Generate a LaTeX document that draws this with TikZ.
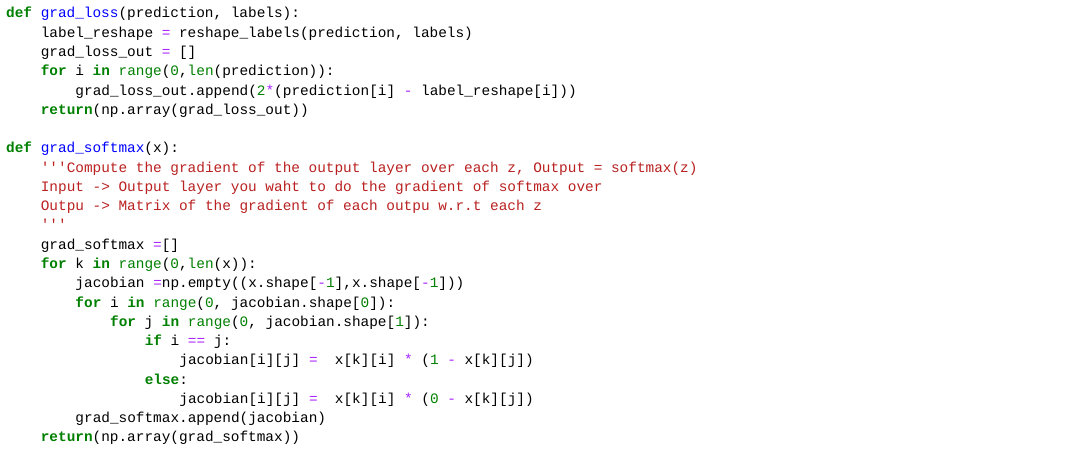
\documentclass[tikz,border=0pt]{standalone}
\usepackage{fontspec}
\setmonofont{Liberation Mono}
\definecolor{kwc}{HTML}{008000}
\definecolor{fnc}{HTML}{0000FF}
\definecolor{opc}{HTML}{AA22FF}
\definecolor{strc}{HTML}{BA2121}
\newcommand{\kw}[1]{\textcolor{kwc}{\bfseries #1}}
\newcommand{\bi}[1]{\textcolor{kwc}{#1}}
\newcommand{\fnm}[1]{\textcolor{fnc}{#1}}
\newcommand{\op}[1]{\textcolor{opc}{#1}}
\newcommand{\st}[1]{\textcolor{strc}{#1}}
\tikzset{cl/.style={anchor=base west,inner sep=0pt,font=\ttfamily\fontsize{14.4bp}{16bp}\selectfont}}
\newcommand{\codeln}[4]{\node[cl] (#1) at ({6+#2*8.66},{18+(#3-1)*19.27}) {#4};}
\begin{document}
\begin{tikzpicture}[x=1bp,y=-1bp]
\useasboundingbox[fill=white] (0,0) rectangle (1076,462);
\codeln{l1}{0}{1}{\kw{def} \fnm{grad\_loss}(prediction, labels):}
\codeln{l2}{4}{2}{label\_reshape \op{=} reshape\_labels(prediction, labels)}
\codeln{l3}{4}{3}{grad\_loss\_out \op{=} []}
\codeln{l4}{4}{4}{\kw{for} i \kw{in} \bi{range}(\bi{0},\bi{len}(prediction)):}
\codeln{l5}{8}{5}{grad\_loss\_out.append(\bi{2}\op{*}(prediction[i] \op{-} label\_reshape[i]))}
\codeln{l6}{4}{6}{\kw{return}(np.array(grad\_loss\_out))}
\codeln{l8}{0}{8}{\kw{def} \fnm{grad\_softmax}(x):}
\codeln{l9}{4}{9}{\st{'{}'{}'Compute the gradient of the output layer over each z, Output = softmax(z)}}
\codeln{l10}{4}{10}{\st{Input -> Output layer you waht to do the gradient of softmax over}}
\codeln{l11}{4}{11}{\st{Outpu -> Matrix of the gradient of each outpu w.r.t each z}}
\codeln{l12}{4}{12}{\st{'{}'{}'}}
\codeln{l13}{4}{13}{grad\_softmax \op{=}[]}
\codeln{l14}{4}{14}{\kw{for} k \kw{in} \bi{range}(\bi{0},\bi{len}(x)):}
\codeln{l15}{8}{15}{jacobian \op{=}np.empty((x.shape[\op{-}\bi{1}],x.shape[\op{-}\bi{1}]))}
\codeln{l16}{8}{16}{\kw{for} i \kw{in} \bi{range}(\bi{0}, jacobian.shape[\bi{0}]):}
\codeln{l17}{12}{17}{\kw{for} j \kw{in} \bi{range}(\bi{0}, jacobian.shape[\bi{1}]):}
\codeln{l18}{16}{18}{\kw{if} i \op{==} j:}
\codeln{l19}{20}{19}{jacobian[i][j] \op{=}\ \ x[k][i] \op{*} (\bi{1} \op{-} x[k][j])}
\codeln{l20}{16}{20}{\kw{else}:}
\codeln{l21}{20}{21}{jacobian[i][j] \op{=}\ \ x[k][i] \op{*} (\bi{0} \op{-} x[k][j])}
\codeln{l22}{8}{22}{grad\_softmax.append(jacobian)}
\codeln{l23}{4}{23}{\kw{return}(np.array(grad\_softmax))}
\end{tikzpicture}
\end{document}
